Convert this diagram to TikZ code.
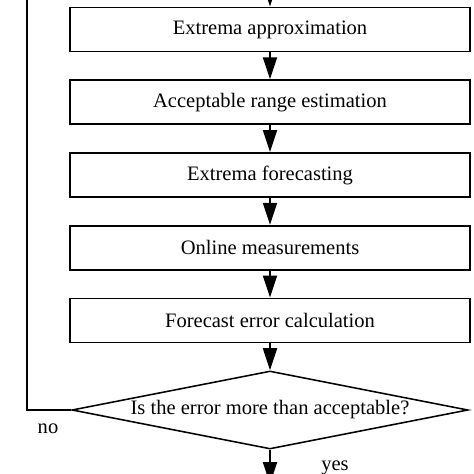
\documentclass[tikz,border=0pt]{standalone}
\usepackage{fontspec}
\setmainfont{Liberation Serif}
\usepackage{tikz}
\usetikzlibrary{arrows.meta,shapes.geometric}
\tikzset{>={Triangle[length=0.55cm,width=0.35cm]},box/.style={draw,line width=1.3pt,minimum width=10cm,minimum height=1.1cm,inner sep=0pt,font=\fontsize{14.6pt}{17pt}\selectfont},dec/.style={draw,diamond,aspect=5.1,line width=1.1pt,minimum width=9.9cm,minimum height=1.95cm,inner sep=0pt,font=\fontsize{14.6pt}{17pt}\selectfont},arr/.style={->,line width=1.3pt},line/.style={line width=1.3pt},lbl/.style={font=\fontsize{14.6pt}{17pt}\selectfont,anchor=base}}
\begin{document}
\begin{tikzpicture}[x=.025cm,y=-.025cm]
\useasboundingbox (0,0) rectangle (474,474);
\clip (0,0) rectangle (474,474);
\foreach \i/\t in {1/Extrema approximation,2/Acceptable range estimation,3/Extrema forecasting,4/Online measurements,5/Forecast error calculation}{\node[box] (b\i) at (270,{29.5+72.75*(\i-1)}) {\t};}
\node[dec] (q) at (270,410) {Is the error more than acceptable?};
\coordinate (in) at (270,-30);\coordinate (lt) at (27,-30);\coordinate (out) at (270,484);
\draw[arr] (in)--(b1);
\foreach \i/\j in {1/2,2/3,3/4,4/5}{\draw[arr] (b\i)--(b\j);}
\draw[arr] (b5)--(q);
\draw[line] (q.west) -| (lt);
\draw[arr] (q)--(out);
\node[lbl] (no) at (48,433) {no};\node[lbl] (yes) at (335,470) {yes};
\end{tikzpicture}
\end{document}
